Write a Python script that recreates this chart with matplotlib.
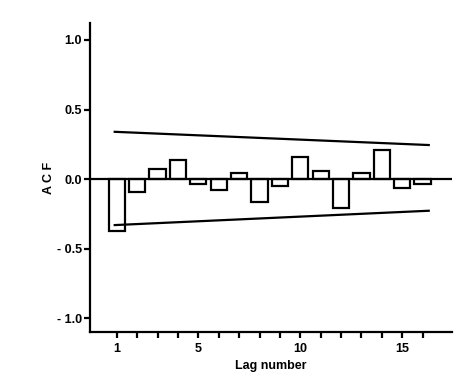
import matplotlib
matplotlib.use('Agg')
import matplotlib.pyplot as plt

plt.rcParams['font.family'] = ['Liberation Sans', 'DejaVu Sans']
plt.rcParams['font.weight'] = 'bold'

# autocorrelation per lag
lags = list(range(1, 17))
acf = [-0.37, -0.09, 0.07, 0.14, -0.035, -0.08, 0.045, -0.165,
       -0.048, 0.157, 0.058, -0.207, 0.045, 0.21, -0.063, -0.036]

# confidence limits (start / end)
conf_lags = [0.9, 16.3]
upper = [0.34, 0.245]
lower = [-0.33, -0.227]

yticks = [-1.0, -0.5, 0.0, 0.5, 1.0]
ytick_labels = ['- 1.0', '- 0.5', '0.0', '0.5', '1.0']
xtick_labels = ['1', '', '', '', '5', '', '', '', '', '10', '', '', '', '', '15', '']

fig = plt.figure(figsize=(4.74, 3.88), dpi=100)
ax = fig.add_axes([0.19, 0.1436, 0.764, 0.798])

ax.bar(lags, acf, width=0.8, facecolor='white', edgecolor='black', linewidth=1.6, zorder=2)
ax.axhline(0, color='black', linewidth=1.6, zorder=3)
ax.plot(conf_lags, upper, color='black', linewidth=1.6)
ax.plot(conf_lags, lower, color='black', linewidth=1.6)

ax.set_xlim(-0.31, 17.45)
ax.set_ylim(-1.1, 1.124)
ax.set_xticks(lags)
ax.set_xticklabels(xtick_labels)
ax.set_yticks(yticks)
ax.set_yticklabels(ytick_labels)

for s in ['top', 'right']:
    ax.spines[s].set_visible(False)
for s in ['left', 'bottom']:
    ax.spines[s].set_linewidth(1.6)
ax.tick_params(direction='out', length=4, width=1.6, labelsize=9)
ax.tick_params(axis='y', pad=2)
ax.tick_params(axis='x', pad=4)

ax.set_xlabel('Lag number', fontsize=9, fontweight='bold', labelpad=3)
ax.set_ylabel('A C F', fontsize=9, fontweight='bold', labelpad=1)

fig.savefig('out.png', dpi=100)
